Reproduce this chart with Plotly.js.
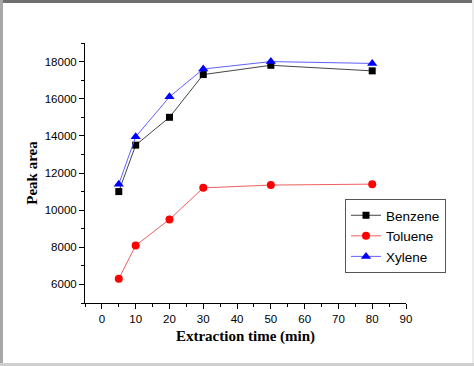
<!DOCTYPE html>
<html>
<head>
<meta charset="utf-8">
<script src="https://cdn.plot.ly/plotly-3.0.1.min.js"></script>
<style>
html,body{margin:0;padding:0;background:#fff;}
#frame{position:relative;width:474px;height:366px;overflow:hidden;background:#fff;}
#chart{position:absolute;left:0;top:0;width:474px;height:366px;}
.b{position:absolute;}
</style>
</head>
<body>
<div id="frame">
<div id="chart"></div>
<div class="b" style="left:0;top:0;width:474px;height:3px;background:#707070;"></div>
<div class="b" style="left:0;top:0;width:3px;height:366px;background:#a8a8a8;"></div>
<div class="b" style="left:472px;top:0;width:2px;height:366px;background:#ececec;"></div>
<div class="b" style="left:0;top:363px;width:474px;height:3px;background:#cfcfcf;"></div>
</div>
<script>
const times = [5, 10, 20, 30, 50, 80];
const benzene = [11000, 13500, 15000, 17300, 17800, 17500];
const toluene = [6300, 8100, 9500, 11200, 11350, 11400];
const xylene = [11400, 13950, 16100, 17600, 18000, 17900];
const seriesNames = ['Benzene', 'Toluene', 'Xylene'];

const traces = [
  {x: times, y: benzene, name: seriesNames[0], mode: 'lines+markers',
   line: {color: '#444444', width: 1}, marker: {symbol: 'square', size: 7, color: '#000000'}},
  {x: times, y: toluene, name: seriesNames[1], mode: 'lines+markers',
   line: {color: '#f06060', width: 1}, marker: {symbol: 'circle', size: 8, color: '#ff0000'}},
  {x: times, y: xylene, name: seriesNames[2], mode: 'lines+markers',
   line: {color: '#6060ff', width: 1}, marker: {symbol: 'triangle-up', size: 9, color: '#0000ff'}}
];

const tickFont = {family: 'Liberation Sans, Arial, sans-serif', size: 11.5, color: '#000'};
const titleFont = {family: 'Liberation Serif, Times New Roman, serif', size: 15, color: '#000', weight: 'bold'};

const layout = {
  width: 474, height: 366,
  margin: {l: 85, r: 68, t: 43, b: 63},
  paper_bgcolor: '#fff', plot_bgcolor: '#fff',
  showlegend: true,
  legend: {x: 0.81, y: 0.40, xanchor: 'left', yanchor: 'top',
    bordercolor: '#555', borderwidth: 1, bgcolor: '#fff',
    font: {family: 'Liberation Sans, Arial, sans-serif', size: 13.5, color: '#000'},
    tracegroupgap: 0, itemwidth: 30},
  xaxis: {range: [-5, 90], dtick: 10, tick0: 0, showgrid: false, zeroline: false,
    showline: true, linecolor: '#000', linewidth: 1, ticks: 'outside', ticklen: 5, tickcolor: '#000',
    minor: {dtick: 5, tick0: 0, ticks: 'outside', ticklen: 3, tickcolor: '#000', showgrid: false},
    tickfont: tickFont,
    title: {text: 'Extraction time (min)', font: titleFont, standoff: 6}},
  yaxis: {range: [5000, 19000], dtick: 2000, tick0: 0, showgrid: false, zeroline: false,
    showline: true, linecolor: '#000', linewidth: 1, ticks: 'outside', ticklen: 5, tickcolor: '#000',
    minor: {dtick: 1000, tick0: 0, ticks: 'outside', ticklen: 3, tickcolor: '#000', showgrid: false},
    tickfont: tickFont, tickformat: 'd', separatethousands: false,
    title: {text: 'Peak area', font: titleFont, standoff: 3}}
};

Plotly.newPlot('chart', traces, layout, {displayModeBar: false, staticPlot: true});
</script>
</body>
</html>
